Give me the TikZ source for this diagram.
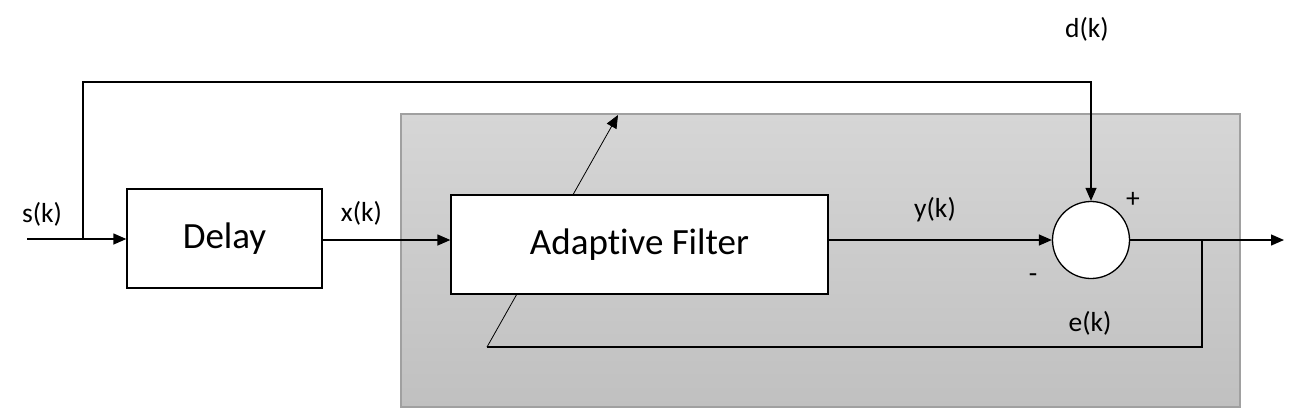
\documentclass[tikz,border=0pt]{standalone}
\usepackage{fontspec}
\setmainfont{Carlito}[Ligatures=CommonOff]
\usetikzlibrary{arrows.meta,positioning,backgrounds}
\definecolor{boxgraytop}{RGB}{214,214,214}
\definecolor{boxgraybot}{RGB}{192,192,192}
\definecolor{boxedge}{RGB}{160,160,160}

\begin{document}
\begin{tikzpicture}[
    x=0.5pt, y=-0.5pt,
    line width=0.65pt,
    arr/.style={-{Triangle[length=6.5pt,width=5.5pt]}},
    block/.style={rectangle, draw=black, fill=white, minimum height=49.5pt, font=\fontsize{18.5}{22}\selectfont},
    sumnode/.style={circle, draw=black, fill=white, minimum size=38.5pt, inner sep=0pt},
    sig/.style={font=\fontsize{13.75}{16}\selectfont, inner sep=0pt}
  ]
    \useasboundingbox (0,0) rectangle (1296,408);
    % points of the signal path
    \coordinate (in) at (27,239);
    \coordinate (split) at (83,239);
    \coordinate (top) at (83,82);
    \coordinate (tap) at (1202,240);
    \coordinate (fb) at (487,347);
    \coordinate (adapt) at (618,115);
    \coordinate (out) at (1284,240);

    \node[block, minimum width=97.5pt] (delay) at (224.5,238.5) {Delay};
    \node[block, minimum width=188.5pt] (filter) at (639.5,244.5) {Adaptive Filter};
    \node[sumnode] (sum) at (1091,240) {};

    \begin{scope}[on background layer]
      \shade[top color=boxgraytop, bottom color=boxgraybot, draw=boxedge, line width=0.6pt] (401,114) rectangle (1240,407);
      \draw[arr] (fb) -- (adapt);
    \end{scope}

    % connectors
    \draw (in) -- (split);
    \draw[arr] (split) -- (delay.west |- split);
    \draw[arr] (delay.east |- 0,240) -- (filter.west |- 0,240);
    \draw[arr] (filter.east |- sum) -- (sum.west);
    \draw[arr] (split) -- (top) -| (sum.north);
    \draw[arr] (sum.east) -- (out);
    \draw (tap) |- (fb);

    % labels
    \node[sig] (sk) at (42,214) {s(k)};
    \node[sig] (xk) at (361.5,213) {x(k)};
    \node[sig] (yk) at (935,210) {y(k)};
    \node[sig] (dk) at (1087,29) {d(k)};
    \node[sig] (ek) at (1090,323) {e(k)};
    \node[sig] (plus) at (1133,200) {+};
    \node[sig] (minus) at (1033,278) {-};
  \end{tikzpicture}
\end{document}
